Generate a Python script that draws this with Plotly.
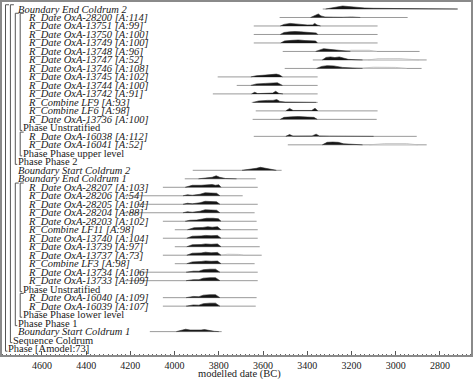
import plotly.graph_objects as go

# ---------------- data ----------------
labels = [
    "Boundary End Coldrum 2",
    "R_Date OxA-28200 [A:114]", "R_Date OxA-13751 [A:99]", "R_Date OxA-13750 [A:100]",
    "R_Date OxA-13749 [A:100]", "R_Date OxA-13748 [A:96]", "R_Date OxA-13747 [A:52]",
    "R_Date OxA-13746 [A:108]", "R_Date OxA-13745 [A:102]", "R_Date OxA-13744 [A:100]",
    "R_Date OxA-13742 [A:91]", "R_Combine LF9 [A:93]", "R_Combine LF6 [A:98]",
    "R_Date OxA-13736 [A:100]",
    "Phase Unstratified",
    "R_Date OxA-16038 [A:112]", "R_Date OxA-16041 [A:52]",
    "Phase Phase upper level",
    "Phase Phase 2",
    "Boundary Start Coldrum 2",
    "Boundary End Coldrum 1",
    "R_Date OxA-28207 [A:103]", "R_Date OxA-28206 [A:54]", "R_Date OxA-28205 [A:104]",
    "R_Date OxA-28204 [A:88]", "R_Date OxA-28203 [A:102]", "R_Combine LF11 [A:98]",
    "R_Date OxA-13740 [A:104]", "R_Date OxA-13739 [A:97]", "R_Date OxA-13737 [A:73]",
    "R_Combine LF3 [A:98]", "R_Date OxA-13734 [A:106]", "R_Date OxA-13733 [A:109]",
    "Phase Unstratified",
    "R_Date OxA-16040 [A:109]", "R_Date OxA-16039 [A:107]",
    "Phase Phase lower level",
    "Phase Phase 1",
    "Boundary Start Coldrum 1",
    "Sequence Coldrum",
    "Phase [Amodel:73]",
]
levels = [2] + [4] * 13 + [3, 4, 4, 3, 2, 2, 2] + [4] * 12 + [3, 4, 4, 3, 2, 2, 1, 0]

range_start = [3330, 3525, 3642, 3642, 3642, 3511, 3375, 3502, 3805, 3719, 3827, 3651, 3633, 3647,
               None, 3642, 3488, None, None, 3918, 3954,
               4053, 4225, 4171, 4234, 4053, 3999, 4053, 3999, 4053, 3999, 4171, 4225,
               None, 4053, 4053, None, None, 4112, None, None]
range_end = [2720, 2946, 3082, 3082, 3082, 2892, 2860, 2883, 3353, 3353, 3353, 3353, 3082, 3086,
             None, 2905, 2860, None, None, 3516, 3633,
             3624, 3692, 3624, 3638, 3629, 3624, 3624, 3615, 3606, 3638, 3624, 3624,
             None, 3629, 3633, None, None, 3787, None, None]

post_dates = [
    [3317, 3290, 3260, 3240, 3215, 3180, 3140, 3100, 3040, 2950, 2850, 2720],
    [3385, 3365, 3350, 3338, 3320, 3280, 3230, 3160],
    [3522, 3505, 3478, 3455, 3430, 3400, 3376, 3366, 3356, 3340],
    [3522, 3505, 3480, 3455, 3430, 3400, 3375, 3360, 3352],
    [3520, 3503, 3470, 3440, 3410, 3380, 3362, 3354],
    [3362, 3342, 3326, 3300, 3265, 3240, 3205],
    [3332, 3315, 3295, 3275, 3255, 3235, 3215, 3180, 3150],
    [3358, 3335, 3310, 3280, 3240, 3200, 3150],
    [3655, 3630, 3590, 3560, 3540, 3525, 3512],
    [3655, 3630, 3590, 3560, 3535, 3512],
    [3652, 3638, 3624, 3580, 3556, 3543, 3528, 3510],
    [3645, 3620, 3580, 3555, 3538, 3524, 3500, 3420, 3380, 3360],
    [3497, 3480, 3464, 3400, 3380, 3365, 3352],
    [3522, 3505, 3470, 3440, 3400, 3370, 3355],
    [],
    [3497, 3480, 3465, 3400, 3378, 3360, 3345, 3300, 3200, 3100],
    [3332, 3310, 3285, 3260, 3235, 3200, 3150],
    [], [],
    [3695, 3660, 3630, 3612, 3585, 3560, 3540],
    [3892, 3860, 3830, 3812, 3796, 3770, 3720],
    [3952, 3920, 3880, 3850, 3830, 3815, 3800, 3790],
    [3962, 3942, 3920, 3885, 3862, 3830, 3810, 3795],
    [3962, 3942, 3920, 3885, 3862, 3830, 3810, 3795],
    [3962, 3942, 3920, 3885, 3862, 3830, 3810, 3795],
    [3952, 3930, 3900, 3872, 3855, 3825, 3802, 3790],
    [3942, 3912, 3872, 3850, 3830, 3806, 3790],
    [3945, 3920, 3880, 3860, 3835, 3806, 3790],
    [3945, 3920, 3880, 3860, 3835, 3806, 3790],
    [3945, 3920, 3880, 3860, 3835, 3806, 3790],
    [3945, 3920, 3880, 3860, 3835, 3806, 3790],
    [3948, 3915, 3890, 3870, 3840, 3815, 3795],
    [3948, 3915, 3890, 3870, 3840, 3815, 3795],
    [],
    [3948, 3915, 3890, 3870, 3840, 3815, 3795],
    [3948, 3915, 3890, 3870, 3840, 3815, 3795],
    [], [],
    [3992, 3962, 3950, 3930, 3905, 3880, 3865, 3845, 3820, 3800],
    [], [],
]
post_heights = [
    [0, 1.2, 2.4, 3, 2.5, 1.6, 1, 0.7, 0.45, 0.3, 0.15, 0],
    [0, 2, 3.5, 1.6, 0.5, 0.3, 0.25, 0],
    [0, 1.6, 2.6, 2.1, 1.2, 1, 1.1, 2.6, 1, 0],
    [0, 2, 2.6, 3, 2.6, 2.1, 2, 1.5, 0],
    [0, 2, 2.6, 3, 2.4, 2, 2, 0],
    [0, 2, 2.8, 2.1, 1.5, 0.5, 0],
    [0, 2.5, 3, 2.4, 3, 2, 0.6, 0.2, 0],
    [0, 2, 2.8, 2.5, 1, 0.4, 0],
    [0, 1.2, 1.8, 2.3, 2.8, 2, 0],
    [0, 1.5, 2, 2.5, 2.6, 0],
    [0, 1.6, 0.3, 0.4, 0.8, 2.6, 0.5, 0],
    [0, 1.4, 2, 2, 2.8, 1, 0.3, 0.2, 0.5, 0],
    [0, 2.5, 0.4, 0.3, 0.4, 2.6, 0],
    [0, 2, 2.5, 2.8, 2.3, 2, 0],
    [],
    [0, 1.8, 0.3, 0.2, 0.4, 2.2, 0.4, 0.2, 0.2, 0],
    [0, 2.5, 2.8, 2.5, 1, 0.3, 0],
    [], [],
    [0, 0.9, 2, 3, 2.1, 0.8, 0],
    [0, 1, 1.5, 3, 1.5, 0.3, 0],
    [0, 2, 2, 2.3, 2.8, 2, 2.5, 0],
    [0, 1, 0.5, 1.5, 3, 3, 2.5, 0],
    [0, 1, 0.5, 1.5, 3, 3, 2.5, 0],
    [0, 1, 0.5, 1.5, 3, 3, 2.5, 0],
    [0, 1, 1.2, 2, 3, 3, 2.5, 0],
    [0, 2, 2.3, 3, 2.5, 3, 0],
    [0, 2, 2.3, 2.8, 2.5, 2.8, 0],
    [0, 2, 2.2, 2.8, 2.4, 2.8, 0],
    [0, 2, 2.3, 3, 2.4, 2.8, 0],
    [0, 1.8, 2.2, 2.8, 2.4, 2.6, 0],
    [0, 1, 1, 2.5, 3, 3, 0],
    [0, 1, 1, 2.5, 3, 3, 0],
    [],
    [0, 1.2, 1, 2.5, 3, 3, 0],
    [0, 1.2, 1, 2.5, 3, 3, 0],
    [], [],
    [0, 1.5, 2.4, 1.6, 1.4, 1.6, 2, 1, 0.3, 0],
    [], [],
]

# unmodelled (likelihood) outlines visible beyond the posterior
lik_rows = [2, 6, 7, 8, 17, 30]
lik_dates = [
    [3240, 3200, 3160],
    [3250, 3200, 3120, 3085],
    [3125, 3080, 2980, 2920, 2895],
    [3180, 3100, 3000, 2950],
    [3120, 3050, 2950, 2900],
    [3792, 3760, 3710, 3690],
]
lik_heights = [
    [0, 1, 0],
    [0, 1.2, 1.2, 0],
    [0, 1.2, 1.3, 0.5, 0],
    [0, 1.2, 1, 0],
    [0, 1.2, 1.2, 0],
    [0, 1, 0.8, 0],
]

x_ticks = [4600, 4400, 4200, 4000, 3800, 3600, 3400, 3200, 3000, 2800]

# ---------------- layout geometry ----------------
W, H = 474, 379
ML, MR, MT, MB = 1, 2, 1, 23
PW = W - ML - MR
PH = H - MT - MB
ROW_PX = 8.49      # pixel spacing of rows
FIRST_ROW_PX = 9   # pixel y of row 1 (from top)
X_LEFT, X_RIGHT = 4785, 2655
n = len(labels)
rows = list(range(1, n + 1))
y_top = 1 - (FIRST_ROW_PX - MT) / ROW_PX
y_bot = y_top + PH / ROW_PX


def hpx(h):
    return h / ROW_PX


def xpaper(px):
    return (px - ML) / PW


def text_px(level):
    return 8 + 4.9 * level


FONT = "Liberation Serif"

fig = go.Figure()

# range lines
lx, ly = [], []
for r, s, e in zip(rows, range_start, range_end):
    if s is None:
        continue
    lx += [s, e, None]
    ly += [r, r, None]
fig.add_trace(go.Scatter(x=lx, y=ly, mode="lines", line=dict(color="#9a9a9a", width=1),
                         hoverinfo="skip", showlegend=False))

# likelihood outlines
gx, gy = [], []
for r, ds, hs in zip(lik_rows, lik_dates, lik_heights):
    gx += ds + [None]
    gy += [r - hpx(h) for h in hs] + [None]
fig.add_trace(go.Scatter(x=gx, y=gy, mode="lines", fill="toself", fillcolor="#dcdcdc",
                         line=dict(color="#bdbdbd", width=0.8), hoverinfo="skip", showlegend=False))

# posterior densities
px_, py_ = [], []
for r, ds, hs in zip(rows, post_dates, post_heights):
    if not ds:
        continue
    px_ += ds + [None]
    py_ += [r - hpx(h) for h in hs] + [None]
fig.add_trace(go.Scatter(x=px_, y=py_, mode="lines", fill="toself", fillcolor="#151515",
                         line=dict(color="#2a2a2a", width=0.6), hoverinfo="skip", showlegend=False))

# labels
annotations = []
for r, lab, lev in zip(rows, labels, levels):
    italic = lab.startswith(("Boundary", "R_Date", "R_Combine"))
    annotations.append(dict(
        x=xpaper(text_px(lev) - 1), xref="paper", y=r, yref="y",
        text=f"<i>{lab}</i>" if italic else lab, showarrow=False,
        xanchor="left", yanchor="middle", borderpad=0,
        font=dict(family=FONT, size=10.5, color="#1a1a1a")))

annotations.append(dict(x=xpaper(239.5), xref="paper", y=-(374 - (H - MB)) / PH, yref="paper",
                        text="modelled date (BC)", showarrow=False, xanchor="center",
                        yanchor="middle", borderpad=0,
                        font=dict(family=FONT, size=10.5, color="#1a1a1a")))

# structure brackets
shapes = []
for g, (r, lev) in enumerate(zip(rows, levels)):
    lab = labels[g]
    if not (lab.startswith("Phase") or lab.startswith("Sequence")):
        continue
    k = g - 1
    while k >= 0 and levels[k] > lev:
        k -= 1
    start_row = rows[k + 1]
    bx = xpaper(text_px(lev) - 2.5)
    top = start_row - 0.5
    ln = dict(color="#555555", width=1)
    shapes.append(dict(type="line", xref="paper", yref="y", x0=bx, x1=bx, y0=top, y1=r + 0.3, line=ln))
    shapes.append(dict(type="line", xref="paper", yref="y", x0=bx, x1=bx + 3.5 / PW, y0=top, y1=top, line=ln))
    shapes.append(dict(type="line", xref="paper", yref="y", x0=bx, x1=bx + 2 / PW, y0=r + 0.3, y1=r + 0.3, line=ln))

# frame
shapes.append(dict(type="rect", xref="paper", yref="paper", x0=0, x1=1, y0=0, y1=1,
                   line=dict(color="#8a8a8a", width=2), layer="above"))

fig.update_layout(
    width=W, height=H,
    margin=dict(l=ML, r=MR, t=MT, b=MB, autoexpand=False),
    plot_bgcolor="white", paper_bgcolor="white",
    annotations=annotations, shapes=shapes, showlegend=False,
    xaxis=dict(range=[X_LEFT, X_RIGHT], tickvals=x_ticks, ticktext=[str(t) for t in x_ticks],
               ticks="inside", ticklen=5, tickcolor="#555", tickwidth=1,
               minor=dict(dtick=20, tick0=0, ticks="inside", ticklen=2, tickcolor="#666"),
               showgrid=False, zeroline=False, showline=True, linecolor="#555", linewidth=1,
               tickfont=dict(family=FONT, size=10, color="#1a1a1a"), fixedrange=True),
    yaxis=dict(range=[y_bot, y_top], visible=False, showgrid=False, zeroline=False, fixedrange=True),
)

fig.write_html("out.html")
